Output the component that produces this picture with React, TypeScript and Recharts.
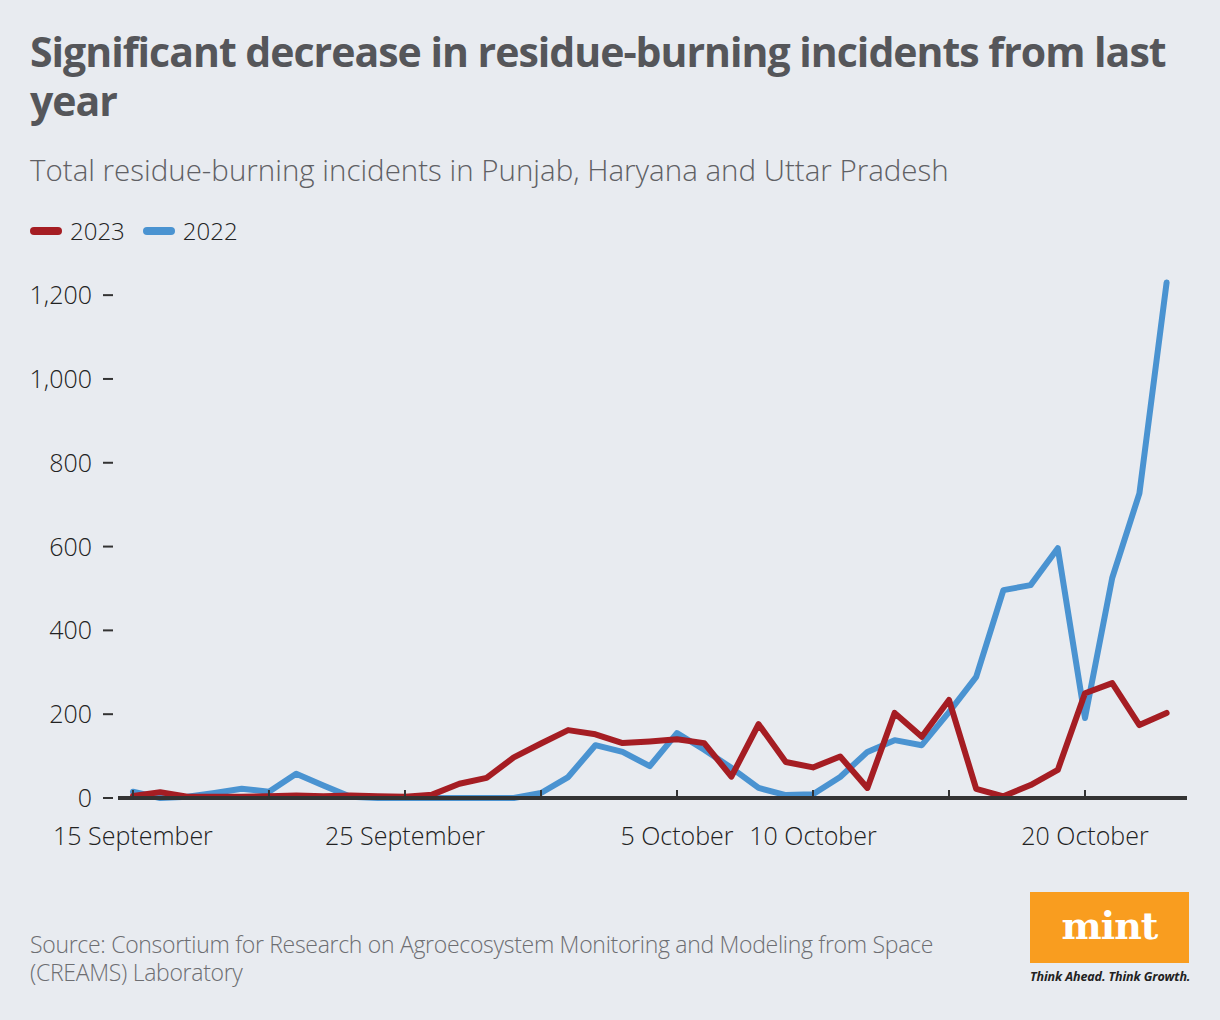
import React from 'react';
import { LineChart, Line, XAxis, YAxis, ReferenceLine } from 'recharts';

// daily dates, 15 September to 23 October
const dates = [
  '15 Sep', '16 Sep', '17 Sep', '18 Sep', '19 Sep', '20 Sep', '21 Sep', '22 Sep', '23 Sep', '24 Sep',
  '25 Sep', '26 Sep', '27 Sep', '28 Sep', '29 Sep', '30 Sep', '1 Oct', '2 Oct', '3 Oct', '4 Oct',
  '5 Oct', '6 Oct', '7 Oct', '8 Oct', '9 Oct', '10 Oct', '11 Oct', '12 Oct', '13 Oct', '14 Oct',
  '15 Oct', '16 Oct', '17 Oct', '18 Oct', '19 Oct', '20 Oct', '21 Oct', '22 Oct', '23 Oct',
];

const burning2023 = [
  5, 14, 3, 3, 3, 4, 6, 4, 6, 4,
  3, 8, 34, 48, 97, 130, 162, 152, 131, 135,
  140, 131, 51, 176, 86, 73, 99, 24, 203, 146,
  234, 22, 4, 31, 67, 250, 274, 174, 203,
];

const burning2022 = [
  15, 0, 3, 12, 22, 15, 58, 30, 3, 0,
  0, 0, 0, 0, 0, 12, 50, 126, 110, 76,
  155, 115, 72, 24, 7, 9, 50, 110, 138, 126,
  205, 289, 496, 508, 596, 191, 525, 727, 1230,
];

const xTicks = [0, 5, 10, 15, 20, 25, 30, 35];
const xTickLabels: Record<number, string> = {
  0: '15 September',
  10: '25 September',
  20: '5 October',
  25: '10 October',
  35: '20 October',
};
const yTicks = [0, 200, 400, 600, 800, 1000, 1200];

const data = dates.map((d, i) => ({
  idx: i,
  date: d,
  y2023: burning2023[i],
  y2022: burning2022[i],
}));

const RED = '#a51d23';
const BLUE = '#4a93d1';
const FONT = '"Open Sans", "Noto Sans", sans-serif';

const YTick = (props: any) => {
  const { x, y, payload } = props;
  return (
    <g>
      <line x1={x - 13} x2={x - 3} y1={y} y2={y} stroke="#333" strokeWidth={2} />
      <text x={x - 24} y={y} dy={9} textAnchor="end" fontSize={25} fill="#222" fontFamily={FONT} fontWeight={300}>
        {payload.value.toLocaleString('en-US')}
      </text>
    </g>
  );
};

const XTick = (props: any) => {
  const { x, y, payload } = props;
  const label = xTickLabels[payload.value];
  return (
    <g>
      <line x1={x} x2={x} y1={y - 10} y2={y} stroke="#333" strokeWidth={2} />
      {label && (
        <text x={x} y={y + 45} textAnchor="middle" fontSize={25} fill="#222" fontFamily={FONT} fontWeight={300}>
          {label}
        </text>
      )}
    </g>
  );
};

const LegendKey = ({ color, label }: { color: string; label: string }) => (
  <span style={{ display: 'inline-flex', alignItems: 'center', marginRight: 18 }}>
    <span style={{ width: 32, height: 8, borderRadius: 4, background: color, marginRight: 8 }} />
    <span>{label}</span>
  </span>
);

export default function App() {
  return (
    <div
      style={{
        position: 'absolute',
        left: 0,
        top: 0,
        width: 1220,
        height: 1020,
        background: '#e8ebf0',
        fontFamily: FONT,
        overflow: 'hidden',
      }}
    >
      <div
        style={{
          position: 'absolute',
          left: 30,
          top: 27,
          width: 1165,
          fontSize: 41,
          lineHeight: '49px',
          fontWeight: 700,
          color: '#55565a',
          letterSpacing: -1,
        }}
      >
        Significant decrease in residue-burning incidents from last year
      </div>
      <div
        style={{
          position: 'absolute',
          left: 30,
          top: 149,
          fontSize: 29.5,
          fontWeight: 300,
          color: '#5f6064',
        }}
      >
        Total residue-burning incidents in Punjab, Haryana and Uttar Pradesh
      </div>
      <div
        style={{
          position: 'absolute',
          left: 30,
          top: 214,
          fontSize: 24,
          fontWeight: 300,
          color: '#222',
          display: 'flex',
        }}
      >
        <LegendKey color={RED} label="2023" />
        <LegendKey color={BLUE} label="2022" />
      </div>

      <div style={{ position: 'absolute', left: 0, top: 0 }}>
        <LineChart
          width={1220}
          height={880}
          data={data}
          margin={{ top: 270, right: 33, left: 0, bottom: 0 }}
        >
          <XAxis
            dataKey="idx"
            type="number"
            domain={[-0.55, 38.75]}
            ticks={xTicks}
            interval={0}
            height={82}
            axisLine={false}
            tickLine={false}
            tickSize={0}
            tick={<XTick />}
          />
          <YAxis
            type="number"
            domain={[0, 1260]}
            ticks={yTicks}
            interval={0}
            width={118}
            axisLine={false}
            tickLine={false}
            tickSize={0}
            tick={<YTick />}
          />
          <Line
            dataKey="y2022"
            stroke={BLUE}
            strokeWidth={6}
            dot={false}
            type="linear"
            strokeLinejoin="round"
            strokeLinecap="round"
            isAnimationActive={false}
          />
          <Line
            dataKey="y2023"
            stroke={RED}
            strokeWidth={6}
            dot={false}
            type="linear"
            strokeLinejoin="round"
            strokeLinecap="round"
            isAnimationActive={false}
          />
          <ReferenceLine y={0} stroke="#333" strokeWidth={4} />
        </LineChart>
      </div>

      <div
        style={{
          position: 'absolute',
          left: 30,
          top: 930,
          width: 940,
          fontSize: 23,
          lineHeight: '28px',
          fontWeight: 300,
          color: '#6d6e72',
          letterSpacing: -0.3,
        }}
      >
        Source: Consortium for Research on Agroecosystem Monitoring and Modeling from Space (CREAMS) Laboratory
      </div>

      <div
        style={{
          position: 'absolute',
          left: 1030,
          top: 892,
          width: 159,
          height: 71,
          background: '#f99d1f',
          display: 'flex',
          alignItems: 'center',
          justifyContent: 'center',
        }}
      >
        <span
          style={{
            fontFamily: '"DejaVu Serif", "Liberation Serif", serif',
            fontWeight: 700,
            fontSize: 38,
            color: '#fff',
            letterSpacing: -1,
            marginTop: -4,
          }}
        >
          mint
        </span>
      </div>
      <div
        style={{
          position: 'absolute',
          left: 1030,
          top: 968,
          width: 162,
          fontSize: 12.5,
          fontStyle: 'italic',
          fontWeight: 700,
          color: '#222',
          letterSpacing: -0.1,
          whiteSpace: 'nowrap',
        }}
      >
        Think Ahead. Think Growth.
      </div>
    </div>
  );
}
